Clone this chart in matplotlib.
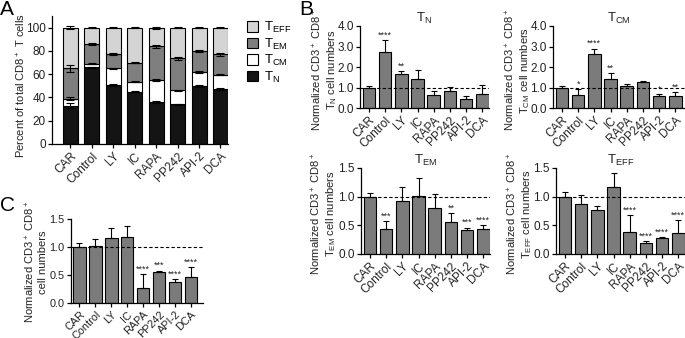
import matplotlib
matplotlib.use("Agg")
import matplotlib.pyplot as plt
import matplotlib.patches as mpatches
import numpy as np

plt.rcParams['font.family'] = ['Liberation Sans', 'DejaVu Sans']
plt.rcParams['mathtext.default'] = 'regular'

W, H = 685, 338

groups = ["CAR", "Control", "LY", "IC", "RAPA", "PP242", "API-2", "DCA"]

# Panel A: cumulative tops of each subset (percent)
a_tn = [33, 66, 51, 45, 36, 34, 50, 47]
a_tcm_top = [39, 69, 65, 53.5, 55, 46, 62, 59.5]
a_tem_top = [65, 86, 77.5, 70, 84, 73.5, 80, 77]
a_teff_top = [100, 100, 100, 100, 100, 100, 100, 100]
a_tn_err = [2, 0.6, 0.8, 0.6, 1, 0.8, 0.6, 1]
a_tcm_err = [1, 0.6, 0.6, 0.6, 1, 0.6, 0.6, 0.6]
a_tem_err = [3, 0.8, 0.8, 0.8, 1.5, 1, 0.6, 1]
a_teff_err = [1.5, 0.5, 0.6, 0.5, 0.8, 0.5, 0.6, 0.6]

# Panel B: normalized counts per subset
tn_vals = [1.0, 2.75, 1.67, 1.42, 0.65, 0.83, 0.45, 0.67]
tn_errs = [0.07, 0.55, 0.13, 0.42, 0.18, 0.2, 0.12, 0.43]
tn_stars = ["", "****", "**", "", "", "", "", ""]

tcm_vals = [1.0, 0.63, 2.65, 1.42, 1.07, 1.25, 0.58, 0.57]
tcm_errs = [0.08, 0.3, 0.25, 0.28, 0.12, 0.05, 0.12, 0.2]
tcm_stars = ["", "*", "****", "**", "", "", "*", "**"]

tem_vals = [1.0, 0.44, 0.93, 1.02, 0.81, 0.55, 0.41, 0.43]
tem_errs = [0.07, 0.13, 0.24, 0.3, 0.24, 0.16, 0.05, 0.08]
tem_stars = ["", "***", "", "", "", "**", "***", "****"]

teff_vals = [1.0, 0.88, 0.77, 1.16, 0.39, 0.19, 0.28, 0.36]
teff_errs = [0.08, 0.15, 0.06, 0.25, 0.29, 0.03, 0.02, 0.23]
teff_stars = ["", "", "", "", "****", "****", "****", "****"]

# Panel C: total normalized counts
c_vals = [1.0, 1.01, 1.16, 1.17, 0.26, 0.55, 0.38, 0.47]
c_errs = [0.08, 0.13, 0.18, 0.2, 0.26, 0.03, 0.04, 0.17]
c_stars = ["", "", "", "", "****", "***", "****", "****"]

BAR_GRAY = '#7b7b7b'


def add_ax(fig, left, right, top, bottom):
    return fig.add_axes([left / W, 1 - bottom / H, (right - left) / W, (bottom - top) / H])


def style_ax(ax, size=8.5):
    ax.spines['top'].set_visible(False)
    ax.spines['right'].set_visible(False)
    for s in ('left', 'bottom'):
        ax.spines[s].set_linewidth(0.9)
    ax.tick_params(axis='both', length=3, width=0.9, labelsize=size, pad=1.5,
                   labelcolor='#222222')
    ax.set_xticks(np.arange(len(groups)))
    ax.set_xticklabels(groups, rotation=45, ha='right', rotation_mode='anchor')


def bar_panel(ax, vals, errs, stars, ymax, ticks, xlim, size=8.5):
    x = np.arange(len(vals))
    ax.bar(x, vals, width=0.78, color=BAR_GRAY, edgecolor='black', linewidth=0.8)
    ax.errorbar(x, vals, yerr=[np.zeros(len(errs)), errs], fmt='none',
                ecolor='black', elinewidth=0.8, capsize=2.5, capthick=0.8)
    ax.axhline(1.0, color='black', linestyle=(0, (3, 2)), linewidth=0.8)
    for i, s in enumerate(stars):
        if s:
            ax.text(i, vals[i] + errs[i] + ymax * 0.005, s, ha='center',
                    va='bottom', fontsize=6.5, color='#222222')
    ax.set_ylim(0, ymax)
    ax.set_xlim(*xlim)
    ax.set_yticks(ticks)
    ax.set_yticklabels(["{:.1f}".format(t) for t in ticks])
    style_ax(ax, size=size)


fig = plt.figure(figsize=(W / 100, H / 100), dpi=100)

# ---- Panel A
axA = add_ax(fig, 52, 228, 16, 144)
x = np.arange(len(groups))
tn = np.array(a_tn)
tcm = np.array(a_tcm_top) - tn
tem = np.array(a_tem_top) - np.array(a_tcm_top)
teff = np.array(a_teff_top) - np.array(a_tem_top)
kw = dict(width=0.7, edgecolor='black', linewidth=0.8)
axA.bar(x, tn, color='#141414', **kw)
axA.bar(x, tcm, bottom=tn, color='white', **kw)
axA.bar(x, tem, bottom=a_tcm_top, color='#7f7f7f', **kw)
axA.bar(x, teff, bottom=a_tem_top, color='#d4d4d4', **kw)
for tops, errs in ((a_tn, a_tn_err), (a_tcm_top, a_tcm_err),
                   (a_tem_top, a_tem_err), (a_teff_top, a_teff_err)):
    axA.errorbar(x, tops, yerr=errs, fmt='none', ecolor='black',
                 elinewidth=0.8, capsize=3, capthick=0.8)
axA.set_ylim(0, 110)
axA.set_xlim(-0.85, 7.35)
axA.set_yticks([0, 20, 40, 60, 80, 100])
style_ax(axA, size=8.5)
fig.text(21 / W, 1 - 86 / H, "Percent of total CD8$^+$ T cells", rotation=90,
         ha='center', va='center', fontsize=8, color='#222222')

handles = [mpatches.Patch(facecolor=c, edgecolor='black', linewidth=0.8)
           for c in ('#d4d4d4', '#7f7f7f', 'white', '#141414')]
fig.legend(handles, ["T$_{EFF}$", "T$_{EM}$", "T$_{CM}$", "T$_{N}$"],
           loc='upper left', bbox_to_anchor=(242 / W, 1 - 15 / H),
           frameon=False, fontsize=9.5, handlelength=0.85, handleheight=0.85,
           handletextpad=0.4, labelspacing=0.1, borderaxespad=0)

# ---- Panel B
specs = [
    (tn_vals, tn_errs, tn_stars, "N", 360, 489, 26, 108, 4.0, 325),
    (tcm_vals, tcm_errs, tcm_stars, "CM", 553, 685, 26, 108, 4.0, 518),
    (tem_vals, tem_errs, tem_stars, "EM", 361, 490, 168, 254, 1.5, 324),
    (teff_vals, teff_errs, teff_stars, "EFF", 556, 685, 168, 254, 1.5, 520),
]
for vals, errs, stars, sub, l, r, t, b, ymax, lx in specs:
    ax = add_ax(fig, l, r, t, b)
    if ymax == 4.0:
        ticks = [0, 1, 2, 3, 4]
    else:
        ticks = [0, 0.5, 1.0, 1.5]
    span = (r - l) / 16.2
    bar_panel(ax, vals, errs, stars, ymax, ticks, (-0.55, -0.55 + span))
    ax.set_title("T$_{%s}$" % sub, fontsize=9.5, pad=-12, color='#222222')
    fig.text(lx / W, 1 - ((t + b) / 2 + 3) / H,
             "Normalized CD3$^+$ CD8$^+$\nT$_{%s}$ cell numbers" % sub,
             rotation=90, ha='center', va='center', fontsize=8,
             linespacing=1.05, color='#222222')

# ---- Panel C
axC = add_ax(fig, 71, 203, 219, 303)
bar_panel(axC, c_vals, c_errs, c_stars, 1.5, [0, 0.5, 1.0, 1.5], (-0.53, 7.75),
          size=7.8)
fig.text(36 / W, 1 - 262 / H, "Normalized CD3$^+$ CD8$^+$\ncell numbers",
         rotation=90, ha='center', va='center', fontsize=8, linespacing=1.05,
         color='#222222')

# panel letters
fig.text(0 / W, 1 - 0 / H, "A", fontsize=15, va='top', ha='left')
fig.text(299 / W, 1 - 0 / H, "B", fontsize=15, va='top', ha='left')
fig.text(0 / W, 1 - 196 / H, "C", fontsize=15, va='top', ha='left')

fig.savefig("out.png", dpi=100)
